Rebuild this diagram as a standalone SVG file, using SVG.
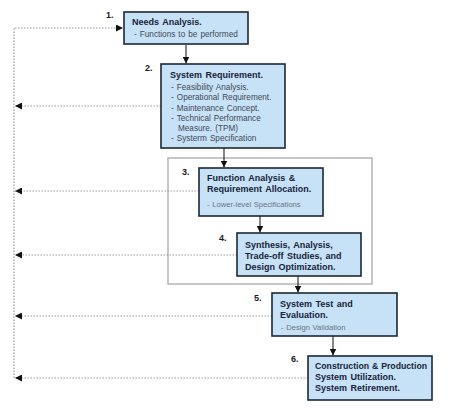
<svg xmlns="http://www.w3.org/2000/svg" width="474" height="408" viewBox="0 0 474 408">
<style>
.box{fill:#c7e1f6;stroke:#1c2836;stroke-width:1.6}
.t{font-family:"Liberation Sans",Arial,sans-serif;font-size:9px;font-weight:bold;fill:#16243a;word-spacing:1px}
.s{font-family:"Liberation Sans",Arial,sans-serif;font-size:8.2px;fill:#3e4a58;word-spacing:0.8px}
.s2{font-family:"Liberation Sans",Arial,sans-serif;font-size:7.6px;fill:#6a7480;word-spacing:0.6px}
.n{font-family:"Liberation Sans",Arial,sans-serif;font-size:9px;font-weight:bold;fill:#1a1a1a}
.dot{fill:none;stroke:#9a9a9a;stroke-width:1.2;stroke-dasharray:1.5 1.5}
.sol{fill:none;stroke:#333;stroke-width:1.2}
</style>
<defs>
<marker id="ah" viewBox="0 0 10 10" refX="10" refY="5" markerWidth="7" markerHeight="7" markerUnits="userSpaceOnUse" orient="auto">
<path d="M0,0 L10,5 L0,10 z" fill="#111"/>
</marker>
</defs>
<rect id="group-box" x="168" y="158" width="204" height="126" fill="none" stroke="#b4b4b4" stroke-width="1.5"/>
<g id="connectors">
<polyline class="dot" points="14,378 14,28 123,28" marker-end="url(#ah)"/>
<line class="dot" x1="161" y1="106" x2="15" y2="106" marker-end="url(#ah)"/>
<line class="dot" x1="199" y1="191" x2="15" y2="191" marker-end="url(#ah)"/>
<line class="dot" x1="237" y1="255" x2="15" y2="255" marker-end="url(#ah)"/>
<line class="dot" x1="272" y1="316" x2="15" y2="316" marker-end="url(#ah)"/>
<line class="dot" x1="308" y1="378" x2="15" y2="378" marker-end="url(#ah)"/>
<line class="sol" x1="186" y1="45" x2="186" y2="63.5" marker-end="url(#ah)"/>
<line class="sol" x1="224" y1="148" x2="224" y2="167.5" marker-end="url(#ah)"/>
<line class="sol" x1="260" y1="216" x2="260" y2="232.5" marker-end="url(#ah)"/>
<line class="sol" x1="298" y1="276" x2="298" y2="292.5" marker-end="url(#ah)"/>
<line class="sol" x1="333" y1="336" x2="333" y2="355.5" marker-end="url(#ah)"/>
</g>
<g id="node1">
<rect class="box" x="124" y="12" width="124" height="32"/>
<text class="n" x="106" y="18">1.</text>
<text class="t" x="132" y="25">Needs Analysis.</text>
<text class="s" x="134" y="37">- Functions to be performed</text>
</g>
<g id="node2">
<rect class="box" x="161" y="64" width="124" height="84"/>
<text class="n" x="145" y="71">2.</text>
<text class="t" x="170" y="78">System Requirement.</text>
<text class="s" x="171" y="89.5">- Feasibility Analysis.</text>
<text class="s" x="171" y="100">- Operational Requirement.</text>
<text class="s" x="171" y="110.5">- Maintenance Concept.</text>
<text class="s" x="171" y="120.5">- Technical Performance</text>
<text class="s" x="178" y="130.5">Measure. (TPM)</text>
<text class="s" x="171" y="141">- Systerm Specification</text>
</g>
<g id="node3">
<rect class="box" x="199" y="168" width="124" height="48"/>
<text class="n" x="182" y="175">3.</text>
<text class="t" x="207" y="181">Function Analysis &amp;</text>
<text class="t" x="207" y="192">Requirement Allocation.</text>
<text class="s2" x="207" y="207">- Lower-level Specifications</text>
</g>
<g id="node4">
<rect class="box" x="237" y="233" width="124" height="43"/>
<text class="n" x="219" y="241">4.</text>
<text class="t" x="245" y="248">Synthesis, Analysis,</text>
<text class="t" x="245" y="259">Trade-off Studies, and</text>
<text class="t" x="245" y="270">Design Optimization.</text>
</g>
<g id="node5">
<rect class="box" x="272" y="293" width="125" height="43"/>
<text class="n" x="254" y="301">5.</text>
<text class="t" x="280" y="307">System Test and</text>
<text class="t" x="280" y="318">Evaluation.</text>
<text class="s2" x="281" y="330">- Design Validation</text>
</g>
<g id="node6">
<rect class="box" x="308" y="356" width="124" height="44"/>
<text class="n" x="291" y="362">6.</text>
<text class="t" x="315" y="369" style="font-size:8.7px;word-spacing:0.5px">Construction &amp; Production</text>
<text class="t" x="315" y="380">System Utilization.</text>
<text class="t" x="315" y="391">System Retirement.</text>
</g>
</svg>
